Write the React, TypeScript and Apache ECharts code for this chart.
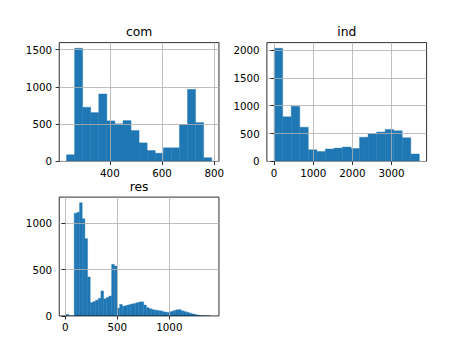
import React, { useEffect, useRef } from 'react';
import * as echarts from 'echarts';

// ---- data ----
const titles = ['com', 'ind', 'res'];

const comCounts = [90, 1520, 727, 656, 906, 545, 505, 549, 415, 250, 147, 111, 183, 183, 495, 968, 522, 50];
const comBinRange = [234, 790];
const comXView = [206.2, 817.8];
const comXTicks = [400, 600, 800];
const comYTicks = [0, 500, 1000, 1500];

const indCounts = [2030, 800, 990, 615, 209, 180, 224, 240, 257, 233, 435, 495, 528, 575, 549, 425, 134];
const indBinRange = [0, 3710];
const indXView = [-185.5, 3895.5];
const indXTicks = [0, 1000, 2000, 3000];
const indYTicks = [0, 500, 1000, 1500, 2000];

const resCounts = [
  15, 0, 0, 1110, 1120, 1223, 1050, 835, 421, 144,
  155, 170, 190, 270, 185, 200, 215, 558, 540, 85,
  125, 105, 112, 120, 128, 133, 142, 150, 152, 118,
  90, 78, 68, 62, 58, 55, 45, 40, 38, 48,
  58, 66, 68, 55, 47, 38, 30, 22, 14, 8,
  4, 2, 1, 1,
];
const resBinRange = [8.5, 1396.3];
const resXView = [-58, 1477];
const resXTicks = [0, 500, 1000];
const resYTicks = [0, 500, 1000];

const panels = [
  { counts: comCounts, bins: comBinRange, xView: comXView, xTicks: comXTicks, yTicks: comYTicks },
  { counts: indCounts, bins: indBinRange, xView: indXView, xTicks: indXTicks, yTicks: indYTicks },
  { counts: resCounts, bins: resBinRange, xView: resXView, xTicks: resXTicks, yTicks: resYTicks },
];

const W = 474;
const H = 355;
// matplotlib subplot geometry (left .125, right .9, bottom .11, top .88, wspace/hspace .3)
const figL = 0.125 * W;
const figR = 0.9 * W;
const figT = (1 - 0.88) * H;
const figB = (1 - 0.11) * H;
const cellW = (figR - figL) / 2.3;
const cellH = (figB - figT) / 2.3;
const gridPos = [
  { left: figL, top: figT },
  { left: figL + cellW * 1.3, top: figT },
  { left: figL, top: figT + cellH * 1.3 },
];

const FONT = 'DejaVu Sans';
const BLUE = '#1f77b4';

function histData(counts: number[], range: number[]) {
  const n = counts.length;
  const w = (range[1] - range[0]) / n;
  return counts.map((c, i) => [range[0] + i * w, range[0] + (i + 1) * w, c]);
}

export default function App() {
  const ref = useRef<HTMLDivElement>(null);
  useEffect(() => {
    if (!ref.current) return;
    const chart = echarts.init(ref.current, null, { renderer: 'svg' });
    const grid: any[] = [];
    const xAxis: any[] = [];
    const yAxis: any[] = [];
    const series: any[] = [];
    const graphic: any[] = [];
    const fmt = (v: number) => String(Math.round(v));
    panels.forEach((p, k) => {
      const g = gridPos[k];
      grid.push({
        left: g.left, top: g.top, width: cellW, height: cellH,
        show: true, borderColor: '#000', borderWidth: 0.82, backgroundColor: 'transparent', z: 3,
      });
      const ymax = Math.max(...p.counts) * 1.05;
      xAxis.push({
        type: 'value', gridIndex: k, min: p.xView[0], max: p.xView[1], z: 3,
        axisLine: { show: false },
        axisTick: { show: true, length: 3.6, customValues: p.xTicks, lineStyle: { color: '#000', width: 0.82 } },
        axisLabel: { customValues: p.xTicks, formatter: fmt, margin: 6.5, fontSize: 10.3, color: '#000', fontFamily: FONT },
        splitLine: { show: true, lineStyle: { color: '#b0b0b0', width: 0.82 } },
      });
      yAxis.push({
        type: 'value', gridIndex: k, min: 0, max: ymax, z: 3,
        axisLine: { show: false },
        axisTick: { show: true, length: 3.6, customValues: p.yTicks, lineStyle: { color: '#000', width: 0.82 } },
        axisLabel: { customValues: p.yTicks, formatter: fmt, margin: 7.2, fontSize: 10.3, color: '#000', fontFamily: FONT },
        splitLine: { show: true, lineStyle: { color: '#b0b0b0', width: 0.82 } },
      });
      series.push({
        type: 'custom', xAxisIndex: k, yAxisIndex: k, z: 2,
        data: histData(p.counts, p.bins),
        encode: { x: [0, 1], y: 2 },
        renderItem: (params: any, api: any) => {
          const p0 = api.coord([api.value(0), api.value(2)]);
          const p1 = api.coord([api.value(1), 0]);
          return {
            type: 'rect',
            shape: { x: p0[0], y: p0[1], width: p1[0] - p0[0], height: p1[1] - p0[1] },
            style: { fill: BLUE, stroke: BLUE, lineWidth: 0.4 },
          };
        },
      });
      graphic.push({
        type: 'text', x: g.left + cellW / 2, y: g.top - 10.2,
        style: { text: titles[k], fill: '#000', fontSize: 12.34, fontFamily: FONT, textAlign: 'center', textVerticalAlign: 'middle' },
      });
    });
    chart.setOption({
      animation: false,
      backgroundColor: '#fff',
      grid, xAxis, yAxis, series, graphic,
    });
    return () => chart.dispose();
  }, []);
  return <div ref={ref} style={{ position: 'absolute', left: 0, top: 0, width: W, height: H }} />;
}
